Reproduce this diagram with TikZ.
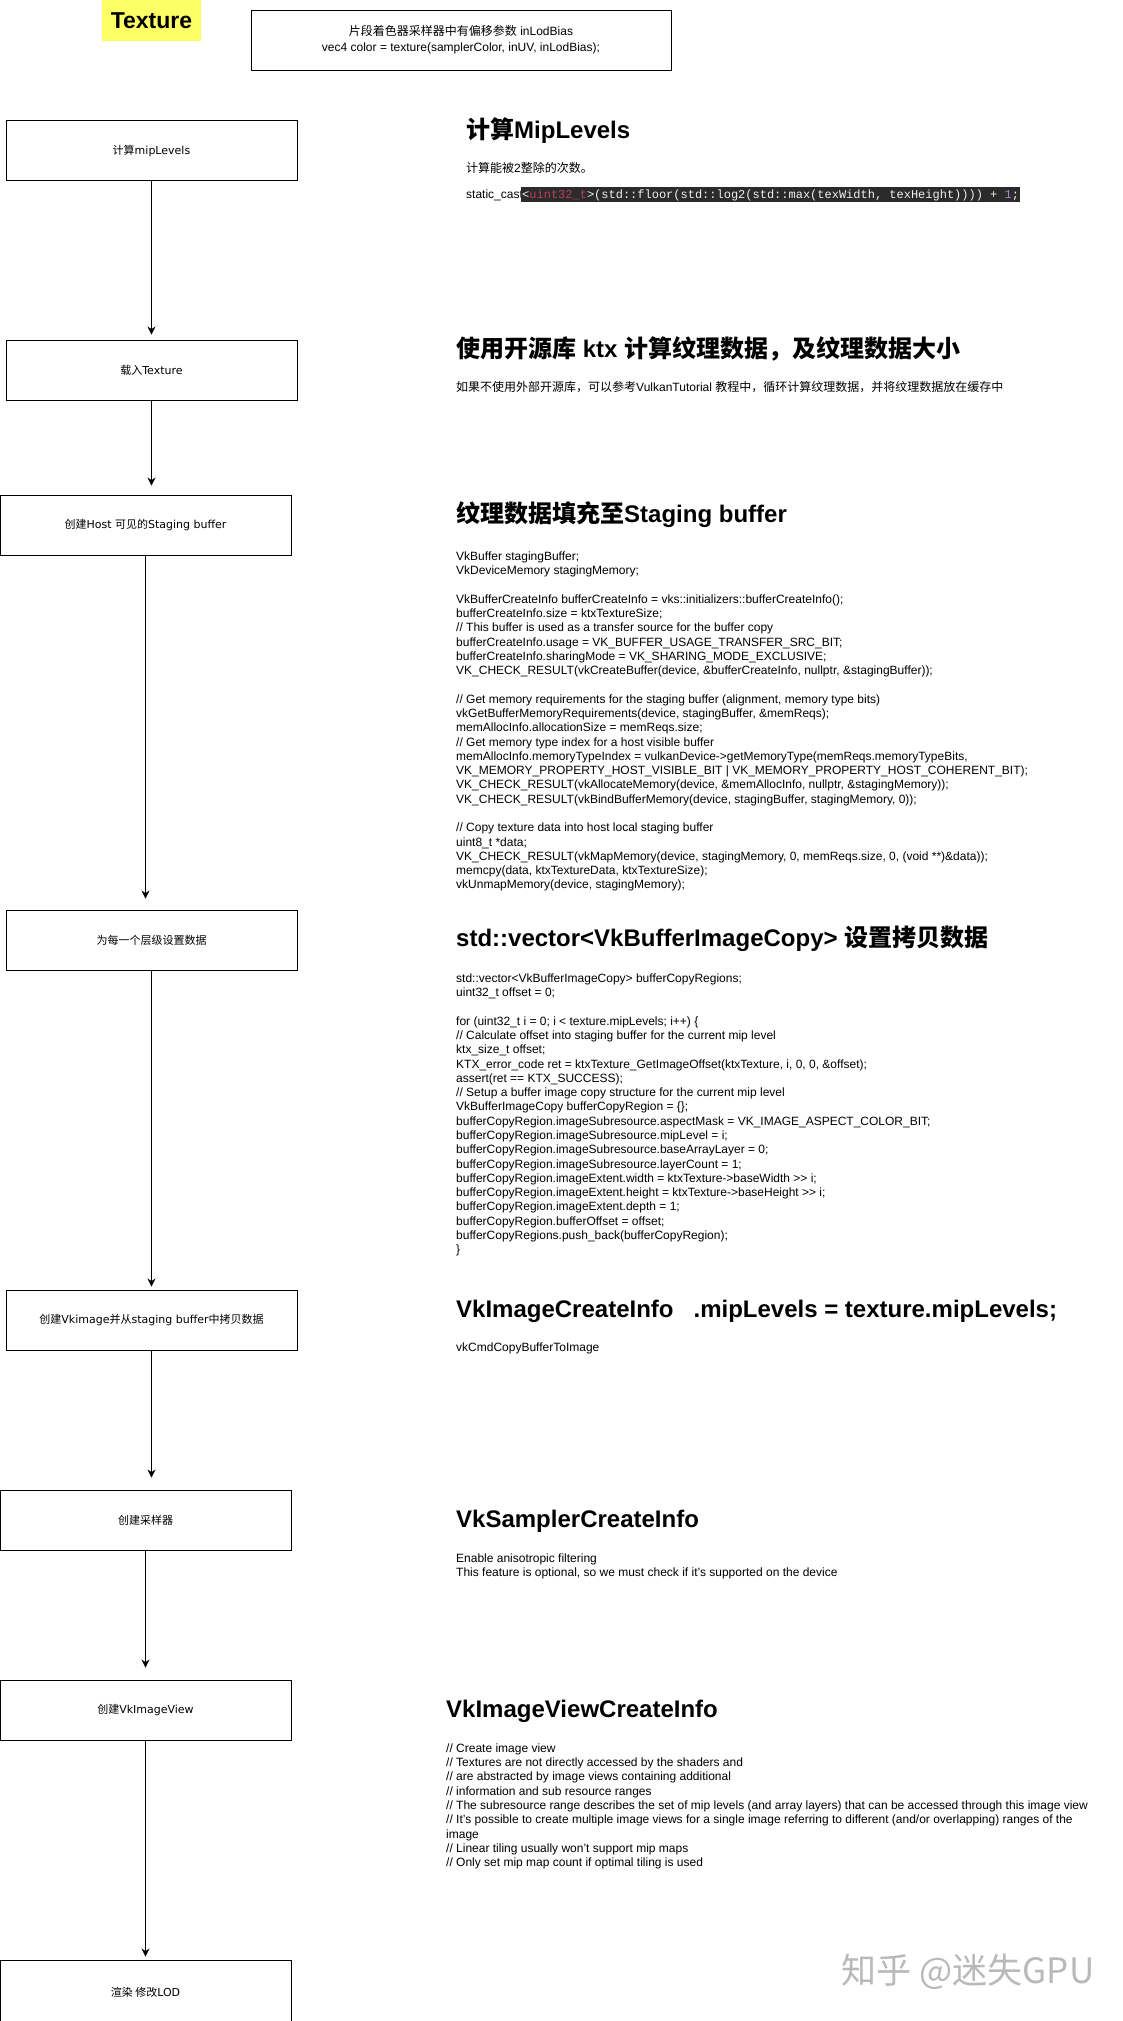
\documentclass[tikz,border=0pt]{standalone}
\usepackage{fontspec}
\setmainfont{Liberation Sans}
\newfontfamily\cjk{Noto Sans CJK SC}
\newfontfamily\dvs{DejaVu Sans}
\newfontfamily\monof{Liberation Mono}
\usetikzlibrary{arrows.meta}
\newcommand\zh[1]{{\cjk #1}}
\definecolor{texyellow}{RGB}{255,255,102}
\definecolor{codebg}{RGB}{43,43,43}
\definecolor{codefg}{RGB}{240,240,240}
\definecolor{codered}{RGB}{190,60,95}
\definecolor{codepurple}{RGB}{170,130,210}
\definecolor{wmgray}{RGB}{185,185,185}
\tikzset{
  stepbox/.style={draw=black, line width=0.9pt, minimum width=291, minimum height=60, inner sep=0pt, font=\dvs\fontsize{11}{13}\selectfont},
  arr/.style={line width=1.1pt, -{Stealth[length=8pt,width=8pt,inset=2.5pt]}},
  head/.style={anchor=base west, inner sep=0pt, font=\bfseries\fontsize{24}{28}\selectfont},
  body/.style={anchor=base west, inner sep=0pt, font=\fontsize{12}{14.28}\selectfont},
  block/.style={anchor=north west, inner sep=0pt, align=left, font=\fontsize{12}{14.28}\selectfont}
}
\begin{document}
\begin{tikzpicture}[x=1pt,y=-1pt]
\useasboundingbox (0,0) rectangle (1122,2021);
\fill[white] (0,0) rectangle (1122,2021);

% title
\node[fill=texyellow, minimum width=99, minimum height=41, inner sep=0pt, font=\bfseries\fontsize{23}{26}\selectfont] (tex) at (151.5,20.5) {Texture};
\node[draw=black, line width=0.9pt, minimum width=420, minimum height=60, inner sep=0pt, align=center, font=\fontsize{12}{16}\selectfont] (topbox) at (461,40)
  {\zh{片段着色器采样器中有偏移参数} inLodBias\\vec4 color = texture(samplerColor, inUV, inLodBias);};

% left flow
\node[stepbox] (b1) at (151.5,150.5) {\zh{计算}mipLevels};
\node[stepbox] (b2) at (151.5,370) {\zh{载入}Texture};
\node[stepbox] (b3) at (145.5,525) {\zh{创建}Host \zh{可见的}Staging buffer};
\node[stepbox] (b4) at (151.5,940) {\zh{为每一个层级设置数据}};
\node[stepbox] (b5) at (151.5,1320) {\zh{创建}Vkimage\zh{并从}staging buffer\zh{中拷贝数据}};
\node[stepbox] (b6) at (145.5,1520) {\zh{创建采样器}};
\node[stepbox] (b7) at (145.5,1710) {\zh{创建}VkImageView};
\node[stepbox, minimum height=64] (b8) at (145.5,1992) {\zh{渲染 修改}LOD};

\draw[arr, shorten >=5pt] (b1.south) -- (b1.south |- b2.north);
\draw[arr, shorten >=9pt] (b2.south) -- (b2.south |- b3.north);
\draw[arr, shorten >=11pt] (b3.south) -- (b3.south |- b4.north);
\draw[arr, shorten >=3pt] (b4.south) -- (b4.south |- b5.north);
\draw[arr, shorten >=12pt] (b5.south) -- (b5.south |- b6.north);
\draw[arr, shorten >=12pt] (b6.south) -- (b6.south |- b7.north);
\draw[arr, shorten >=3pt] (b7.south) -- (b7.south |- b8.north);

% right side: mip levels
\node[head] (h1) at (466,138) {\zh{计算}MipLevels};
\node[body] (t1) at (466,172) {\zh{计算能被}2\zh{整除的次数。}};
\node[body] (t2) at (466,198) {static\_cast};
\node[anchor=base west, inner xsep=1pt, inner ysep=0pt, text height=11pt, text depth=4pt, fill=codebg, text=codefg, font=\monof\fontsize{12}{14}\selectfont] (code) at (521,198)
  {<\textcolor{codered}{uint32\_t}>(std::floor(std::log2(std::max(texWidth, texHeight)))) + \textcolor{codepurple}{1};};

% ktx
\node[head] (h2) at (456,357) {\zh{使用开源库} ktx \zh{计算纹理数据，及纹理数据大小}};
\node[body] (t3) at (456,391) {\zh{如果不使用外部开源库，可以参考}VulkanTutorial \zh{教程中，循环计算纹理数据，并将纹理数据放在缓存中}};

% staging buffer
\node[head] (h3) at (456,522) {\zh{纹理数据填充至}Staging buffer};
\node[block] (t4) at (456,551.5) {VkBuffer stagingBuffer;\\
VkDeviceMemory stagingMemory;\\
\mbox{}\\
VkBufferCreateInfo bufferCreateInfo = vks::initializers::bufferCreateInfo();\\
bufferCreateInfo.size = ktxTextureSize;\\
// This buffer is used as a transfer source for the buffer copy\\
bufferCreateInfo.usage = VK\_BUFFER\_USAGE\_TRANSFER\_SRC\_BIT;\\
bufferCreateInfo.sharingMode = VK\_SHARING\_MODE\_EXCLUSIVE;\\
VK\_CHECK\_RESULT(vkCreateBuffer(device, \&bufferCreateInfo, nullptr, \&stagingBuffer));\\
\mbox{}\\
// Get memory requirements for the staging buffer (alignment, memory type bits)\\
vkGetBufferMemoryRequirements(device, stagingBuffer, \&memReqs);\\
memAllocInfo.allocationSize = memReqs.size;\\
// Get memory type index for a host visible buffer\\
memAllocInfo.memoryTypeIndex = vulkanDevice->getMemoryType(memReqs.memoryTypeBits,\\
VK\_MEMORY\_PROPERTY\_HOST\_VISIBLE\_BIT | VK\_MEMORY\_PROPERTY\_HOST\_COHERENT\_BIT);\\
VK\_CHECK\_RESULT(vkAllocateMemory(device, \&memAllocInfo, nullptr, \&stagingMemory));\\
VK\_CHECK\_RESULT(vkBindBufferMemory(device, stagingBuffer, stagingMemory, 0));\\
\mbox{}\\
// Copy texture data into host local staging buffer\\
uint8\_t *data;\\
VK\_CHECK\_RESULT(vkMapMemory(device, stagingMemory, 0, memReqs.size, 0, (void **)\&data));\\
memcpy(data, ktxTextureData, ktxTextureSize);\\
vkUnmapMemory(device, stagingMemory);};

% buffer image copy
\node[head] (h4) at (456,946) {std::vector<VkBufferImageCopy> \zh{设置拷贝数据}};
\node[block] (t5) at (456,973.5) {std::vector<VkBufferImageCopy> bufferCopyRegions;\\
uint32\_t offset = 0;\\
\mbox{}\\
for (uint32\_t i = 0; i < texture.mipLevels; i++) \{\\
// Calculate offset into staging buffer for the current mip level\\
ktx\_size\_t offset;\\
KTX\_error\_code ret = ktxTexture\_GetImageOffset(ktxTexture, i, 0, 0, \&offset);\\
assert(ret == KTX\_SUCCESS);\\
// Setup a buffer image copy structure for the current mip level\\
VkBufferImageCopy bufferCopyRegion = \{\};\\
bufferCopyRegion.imageSubresource.aspectMask = VK\_IMAGE\_ASPECT\_COLOR\_BIT;\\
bufferCopyRegion.imageSubresource.mipLevel = i;\\
bufferCopyRegion.imageSubresource.baseArrayLayer = 0;\\
bufferCopyRegion.imageSubresource.layerCount = 1;\\
bufferCopyRegion.imageExtent.width = ktxTexture->baseWidth >{}> i;\\
bufferCopyRegion.imageExtent.height = ktxTexture->baseHeight >{}> i;\\
bufferCopyRegion.imageExtent.depth = 1;\\
bufferCopyRegion.bufferOffset = offset;\\
bufferCopyRegions.push\_back(bufferCopyRegion);\\
\}};

% image create
\node[head] (h5) at (456,1317) {VkImageCreateInfo\hspace{20pt}.mipLevels = texture.mipLevels;};
\node[body] (t6) at (456,1351) {vkCmdCopyBufferToImage};

% sampler
\node[head] (h6) at (456,1527) {VkSamplerCreateInfo};
\node[block] (t7) at (456,1553.5) {Enable anisotropic filtering\\
This feature is optional, so we must check if it's supported on the device};

% image view
\node[head] (h7) at (446,1717) {VkImageViewCreateInfo};
\node[block] (t8) at (446,1743.5) {// Create image view\\
// Textures are not directly accessed by the shaders and\\
// are abstracted by image views containing additional\\
// information and sub resource ranges\\
// The subresource range describes the set of mip levels (and array layers) that can be accessed through this image view\\
// It's possible to create multiple image views for a single image referring to different (and/or overlapping) ranges of the\\
image\\
// Linear tiling usually won't support mip maps\\
// Only set mip map count if optimal tiling is used};

% watermark
\node[inner sep=0pt, text=wmgray, font=\cjk\fontsize{35}{37}\selectfont] (wm) at (968,1972) {知乎 @迷失GPU};
\end{tikzpicture}
\end{document}
